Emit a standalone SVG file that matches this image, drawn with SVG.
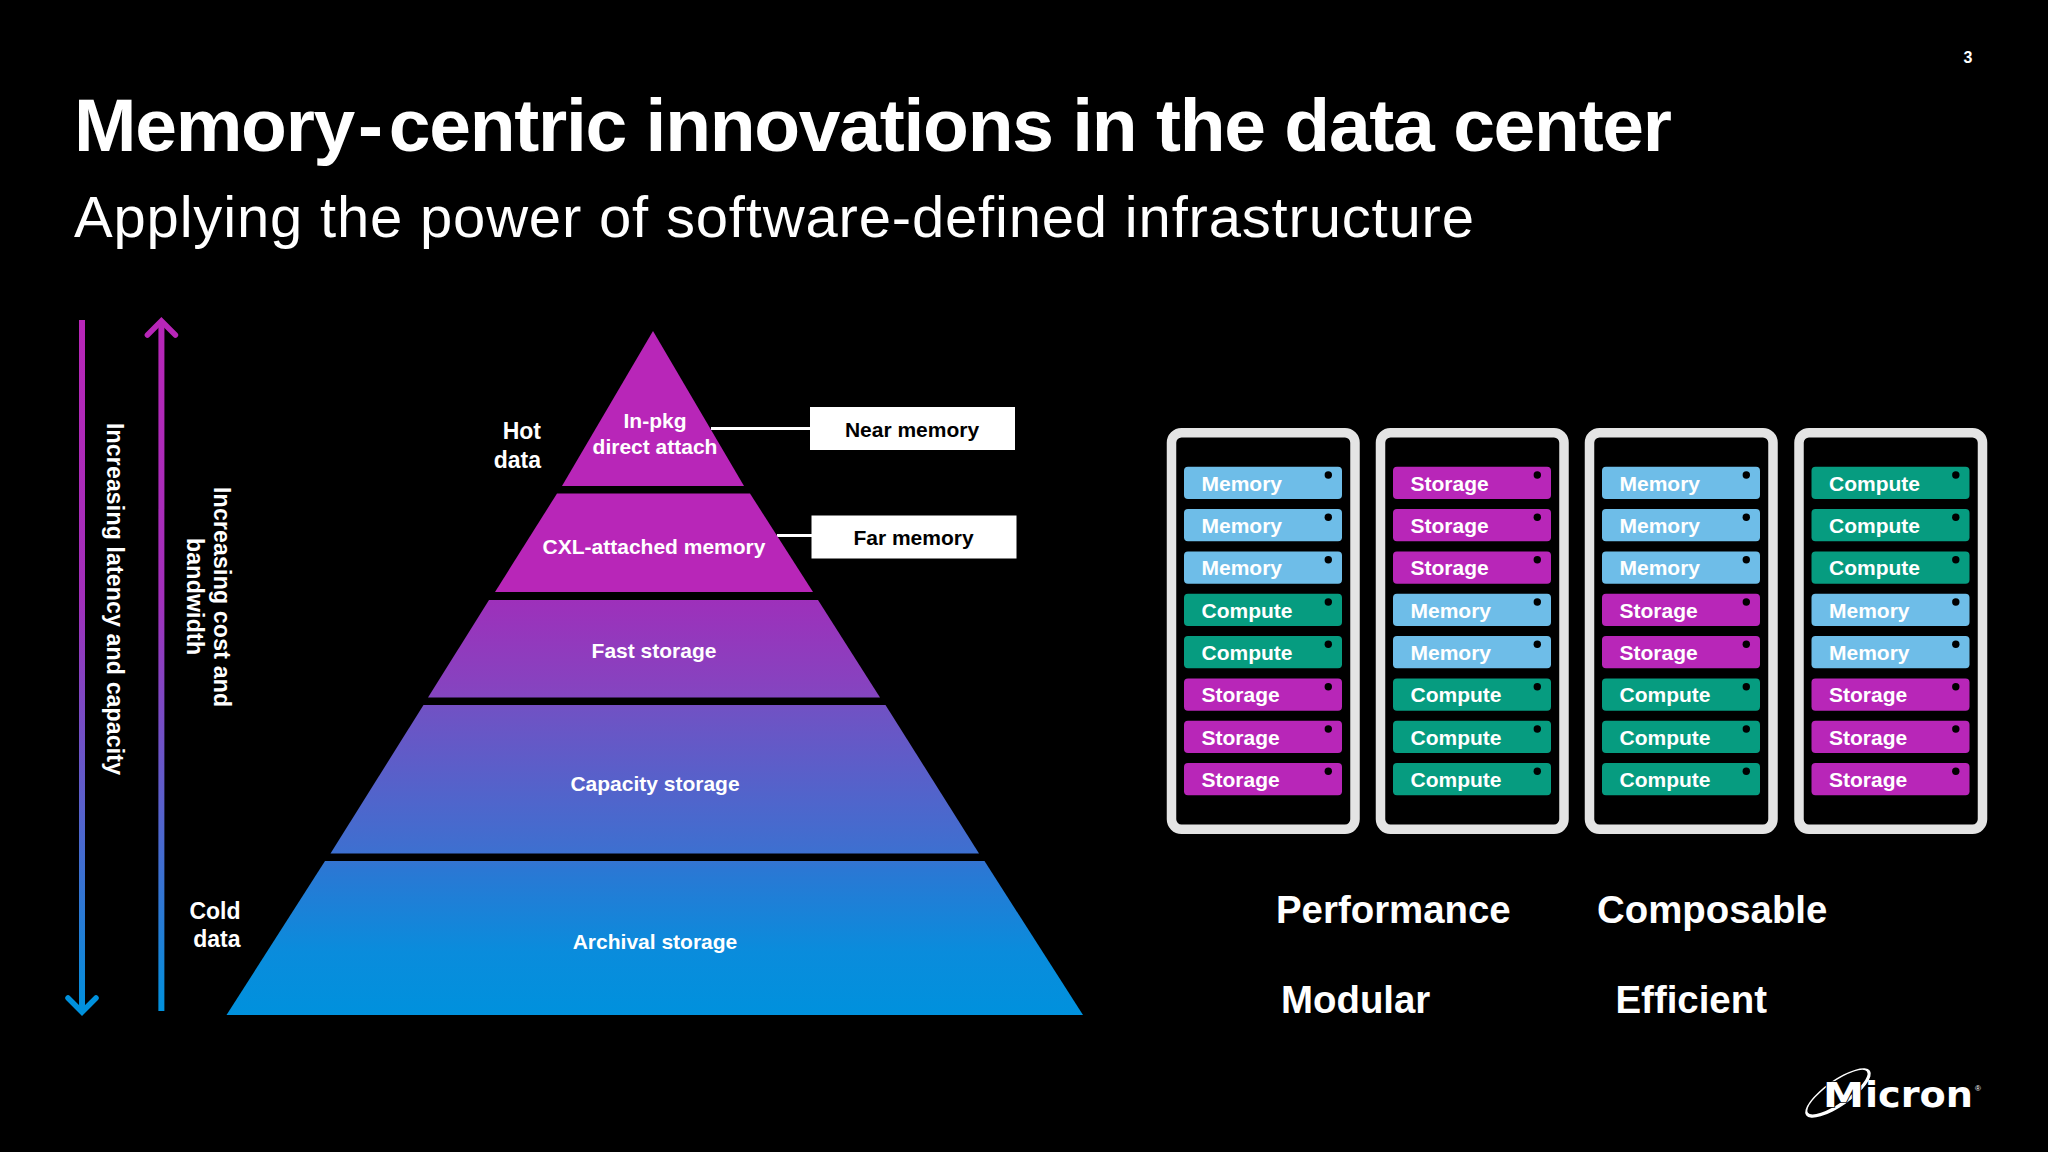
<svg xmlns="http://www.w3.org/2000/svg" width="2048" height="1152" viewBox="0 0 2048 1152">
<style>
text{font-family:"Liberation Sans",Arial,sans-serif;fill:#fff}
.b{font-weight:700}
.t{font-size:21px;font-weight:700;text-anchor:middle}
.s{font-size:21px;font-weight:700}
.k{font-size:23px;font-weight:700;text-anchor:end}
.l{font-size:38.4px;font-weight:700}
.v{font-size:23px;font-weight:700}
.box{fill:#fff}
.bt{font-size:21px;font-weight:700;text-anchor:middle;fill:#000}
.rack{fill:#000;stroke:#e4e4e4;stroke-width:9.5}
.M{fill:#6ebde8}.C{fill:#069c80}.S{fill:#b826b8}
.dot{fill:#000}
.lead{stroke:#fff;stroke-width:3;fill:none}
</style>
<defs>
<linearGradient id="pg" gradientUnits="userSpaceOnUse" x1="0" y1="590" x2="0" y2="1015">
<stop offset="0" stop-color="#a02eba"/><stop offset=".25" stop-color="#8445c0"/><stop offset=".28" stop-color="#7052c4"/><stop offset=".62" stop-color="#3d70d0"/><stop offset=".66" stop-color="#2a78d4"/><stop offset=".85" stop-color="#0a8cdc"/><stop offset="1" stop-color="#0091dd"/>
</linearGradient>
<linearGradient id="ag" gradientUnits="userSpaceOnUse" x1="0" y1="320" x2="0" y2="1012">
<stop offset="0" stop-color="#b826b8"/><stop offset=".4" stop-color="#a22fbb"/><stop offset=".7" stop-color="#5a60cc"/><stop offset="1" stop-color="#0091dd"/>
</linearGradient>
<marker id="hb" markerUnits="userSpaceOnUse" markerWidth="40" markerHeight="40" refX="20" refY="20" orient="auto" viewBox="0 0 40 40"><path d="M6 6L20 20L6 34" fill="none" stroke="#0091dd" stroke-width="5.5" stroke-linecap="round"/></marker>
<marker id="ht" markerUnits="userSpaceOnUse" markerWidth="40" markerHeight="40" refX="20" refY="20" orient="auto" viewBox="0 0 40 40"><path d="M6 6L20 20L6 34" fill="none" stroke="#b826b8" stroke-width="5.5" stroke-linecap="round"/></marker>
</defs>
<rect width="2048" height="1152" fill="#000"/>

<text id="page" x="1968" y="63" class="b" font-size="16" text-anchor="middle">3</text>
<text id="title" x="74" y="150.5" class="b" font-size="75" textLength="1598">Memory<tspan dx="4">-</tspan><tspan dx="7">centric innovations in the data center</tspan></text>
<text id="subtitle" x="74" y="236.5" font-size="58" textLength="1400">Applying the power of software-defined infrastructure</text>

<g id="connectors">
<line class="lead" x1="711" y1="428.4" x2="811" y2="428.4"/>
<line class="lead" x1="777" y1="535.5" x2="812" y2="535.5"/>
<line x1="82" y1="320" x2="82.01" y2="1012" stroke="url(#ag)" stroke-width="6" marker-end="url(#hb)"/>
<line x1="161.4" y1="1011" x2="161.41" y2="321" stroke="url(#ag)" stroke-width="6" marker-end="url(#ht)"/>
</g>

<g id="axis-labels">
<text class="v" transform="translate(106.5,423) rotate(90)" textLength="352">Increasing latency and capacity</text>
<text class="v" transform="translate(214,487) rotate(90)" textLength="220">Increasing cost and</text>
<text class="v" transform="translate(186.5,538) rotate(90)" textLength="117">bandwidth</text>
</g>

<g id="hot-data"><text class="k" x="541" y="439">Hot</text><text class="k" x="541" y="467.5">data</text></g>
<g id="cold-data"><text class="k" x="240.5" y="918.5">Cold</text><text class="k" x="240.5" y="946.5">data</text></g>

<g id="tier-inpkg"><polygon points="653,331 744,486 562,486" fill="#b826b8"/><text class="t" x="655" y="428">In-pkg</text><text class="t" x="655" y="454">direct attach</text></g>
<g id="tier-cxl"><polygon points="557,493.5 750,493.5 813,592 495,592" fill="#b826b8"/><text class="t" x="654" y="553.5">CXL-attached memory</text></g>
<g id="tier-fast"><polygon points="489,600 818,600 880,697.5 428,697.5" fill="url(#pg)"/><text class="t" x="654" y="657.5">Fast storage</text></g>
<g id="tier-capacity"><polygon points="423.5,705 885.5,705 979,853.5 330.5,853.5" fill="url(#pg)"/><text class="t" x="655" y="790.5">Capacity storage</text></g>
<g id="tier-archival"><polygon points="325,861 984.5,861 1083,1015 226.5,1015" fill="url(#pg)"/><text class="t" x="655" y="948.5">Archival storage</text></g>

<g id="near-memory"><rect class="box" x="810" y="407" width="205" height="43"/><text class="bt" x="912" y="436.5">Near memory</text></g>
<g id="far-memory"><rect class="box" x="811.5" y="515.5" width="205" height="43"/><text class="bt" x="913.5" y="545">Far memory</text></g>

<g id="rack-1">
<rect class="rack" x="1171.5" y="432.7" width="183.5" height="396.6" rx="10"/>
<rect class="M" x="1184" y="466.7" width="158" height="32.3" rx="4"/><circle class="dot" cx="1328.3" cy="475" r="3.7"/><text class="s" x="1201.5" y="490.5">Memory</text>
<rect class="M" x="1184" y="509" width="158" height="32.3" rx="4"/><circle class="dot" cx="1328.3" cy="517.3" r="3.7"/><text class="s" x="1201.5" y="532.8">Memory</text>
<rect class="M" x="1184" y="551.4" width="158" height="32.3" rx="4"/><circle class="dot" cx="1328.3" cy="559.7" r="3.7"/><text class="s" x="1201.5" y="575.2">Memory</text>
<rect class="C" x="1184" y="593.7" width="158" height="32.3" rx="4"/><circle class="dot" cx="1328.3" cy="602" r="3.7"/><text class="s" x="1201.5" y="617.5">Compute</text>
<rect class="C" x="1184" y="636" width="158" height="32.3" rx="4"/><circle class="dot" cx="1328.3" cy="644.3" r="3.7"/><text class="s" x="1201.5" y="659.8">Compute</text>
<rect class="S" x="1184" y="678.4" width="158" height="32.3" rx="4"/><circle class="dot" cx="1328.3" cy="686.7" r="3.7"/><text class="s" x="1201.5" y="702.2">Storage</text>
<rect class="S" x="1184" y="720.7" width="158" height="32.3" rx="4"/><circle class="dot" cx="1328.3" cy="729" r="3.7"/><text class="s" x="1201.5" y="744.5">Storage</text>
<rect class="S" x="1184" y="763" width="158" height="32.3" rx="4"/><circle class="dot" cx="1328.3" cy="771.3" r="3.7"/><text class="s" x="1201.5" y="786.8">Storage</text>
</g>
<g id="rack-2" transform="translate(209,0)">
<rect class="rack" x="1171.5" y="432.7" width="183.5" height="396.6" rx="10"/>
<rect class="S" x="1184" y="466.7" width="158" height="32.3" rx="4"/><circle class="dot" cx="1328.3" cy="475" r="3.7"/><text class="s" x="1201.5" y="490.5">Storage</text>
<rect class="S" x="1184" y="509" width="158" height="32.3" rx="4"/><circle class="dot" cx="1328.3" cy="517.3" r="3.7"/><text class="s" x="1201.5" y="532.8">Storage</text>
<rect class="S" x="1184" y="551.4" width="158" height="32.3" rx="4"/><circle class="dot" cx="1328.3" cy="559.7" r="3.7"/><text class="s" x="1201.5" y="575.2">Storage</text>
<rect class="M" x="1184" y="593.7" width="158" height="32.3" rx="4"/><circle class="dot" cx="1328.3" cy="602" r="3.7"/><text class="s" x="1201.5" y="617.5">Memory</text>
<rect class="M" x="1184" y="636" width="158" height="32.3" rx="4"/><circle class="dot" cx="1328.3" cy="644.3" r="3.7"/><text class="s" x="1201.5" y="659.8">Memory</text>
<rect class="C" x="1184" y="678.4" width="158" height="32.3" rx="4"/><circle class="dot" cx="1328.3" cy="686.7" r="3.7"/><text class="s" x="1201.5" y="702.2">Compute</text>
<rect class="C" x="1184" y="720.7" width="158" height="32.3" rx="4"/><circle class="dot" cx="1328.3" cy="729" r="3.7"/><text class="s" x="1201.5" y="744.5">Compute</text>
<rect class="C" x="1184" y="763" width="158" height="32.3" rx="4"/><circle class="dot" cx="1328.3" cy="771.3" r="3.7"/><text class="s" x="1201.5" y="786.8">Compute</text>
</g>
<g id="rack-3" transform="translate(418,0)">
<rect class="rack" x="1171.5" y="432.7" width="183.5" height="396.6" rx="10"/>
<rect class="M" x="1184" y="466.7" width="158" height="32.3" rx="4"/><circle class="dot" cx="1328.3" cy="475" r="3.7"/><text class="s" x="1201.5" y="490.5">Memory</text>
<rect class="M" x="1184" y="509" width="158" height="32.3" rx="4"/><circle class="dot" cx="1328.3" cy="517.3" r="3.7"/><text class="s" x="1201.5" y="532.8">Memory</text>
<rect class="M" x="1184" y="551.4" width="158" height="32.3" rx="4"/><circle class="dot" cx="1328.3" cy="559.7" r="3.7"/><text class="s" x="1201.5" y="575.2">Memory</text>
<rect class="S" x="1184" y="593.7" width="158" height="32.3" rx="4"/><circle class="dot" cx="1328.3" cy="602" r="3.7"/><text class="s" x="1201.5" y="617.5">Storage</text>
<rect class="S" x="1184" y="636" width="158" height="32.3" rx="4"/><circle class="dot" cx="1328.3" cy="644.3" r="3.7"/><text class="s" x="1201.5" y="659.8">Storage</text>
<rect class="C" x="1184" y="678.4" width="158" height="32.3" rx="4"/><circle class="dot" cx="1328.3" cy="686.7" r="3.7"/><text class="s" x="1201.5" y="702.2">Compute</text>
<rect class="C" x="1184" y="720.7" width="158" height="32.3" rx="4"/><circle class="dot" cx="1328.3" cy="729" r="3.7"/><text class="s" x="1201.5" y="744.5">Compute</text>
<rect class="C" x="1184" y="763" width="158" height="32.3" rx="4"/><circle class="dot" cx="1328.3" cy="771.3" r="3.7"/><text class="s" x="1201.5" y="786.8">Compute</text>
</g>
<g id="rack-4" transform="translate(627.5,0)">
<rect class="rack" x="1171.5" y="432.7" width="183.5" height="396.6" rx="10"/>
<rect class="C" x="1184" y="466.7" width="158" height="32.3" rx="4"/><circle class="dot" cx="1328.3" cy="475" r="3.7"/><text class="s" x="1201.5" y="490.5">Compute</text>
<rect class="C" x="1184" y="509" width="158" height="32.3" rx="4"/><circle class="dot" cx="1328.3" cy="517.3" r="3.7"/><text class="s" x="1201.5" y="532.8">Compute</text>
<rect class="C" x="1184" y="551.4" width="158" height="32.3" rx="4"/><circle class="dot" cx="1328.3" cy="559.7" r="3.7"/><text class="s" x="1201.5" y="575.2">Compute</text>
<rect class="M" x="1184" y="593.7" width="158" height="32.3" rx="4"/><circle class="dot" cx="1328.3" cy="602" r="3.7"/><text class="s" x="1201.5" y="617.5">Memory</text>
<rect class="M" x="1184" y="636" width="158" height="32.3" rx="4"/><circle class="dot" cx="1328.3" cy="644.3" r="3.7"/><text class="s" x="1201.5" y="659.8">Memory</text>
<rect class="S" x="1184" y="678.4" width="158" height="32.3" rx="4"/><circle class="dot" cx="1328.3" cy="686.7" r="3.7"/><text class="s" x="1201.5" y="702.2">Storage</text>
<rect class="S" x="1184" y="720.7" width="158" height="32.3" rx="4"/><circle class="dot" cx="1328.3" cy="729" r="3.7"/><text class="s" x="1201.5" y="744.5">Storage</text>
<rect class="S" x="1184" y="763" width="158" height="32.3" rx="4"/><circle class="dot" cx="1328.3" cy="771.3" r="3.7"/><text class="s" x="1201.5" y="786.8">Storage</text>
</g>

<g id="benefits">
<text class="l" x="1276" y="923">Performance</text>
<text class="l" x="1597" y="923">Composable</text>
<text class="l" x="1281" y="1013">Modular</text>
<text class="l" x="1615.5" y="1013">Efficient</text>
</g>

<g id="logo">
<g transform="rotate(-35 1838 1093)"><path fill-rule="evenodd" fill="#fff" d="M1799 1093a39 13 0 1 0 78 0a39 13 0 1 0 -78 0ZM1802 1092a36 10.5 0 1 0 72 0a36 10.5 0 1 0 -72 0Z"/></g>
<text x="1823" y="1107" font-family="DejaVu Sans" style="font-family:'DejaVu Sans',sans-serif" font-weight="700" font-size="33" textLength="41" lengthAdjust="spacingAndGlyphs" stroke="#000" stroke-width="1.5" paint-order="stroke">M</text>
<text x="1865" y="1107" style="font-family:'DejaVu Sans',sans-serif" font-weight="700" font-size="36" textLength="108" lengthAdjust="spacingAndGlyphs">icron</text>
<text x="1975" y="1091" font-size="8" fill="#aaa">®</text>
</g>
</svg>
